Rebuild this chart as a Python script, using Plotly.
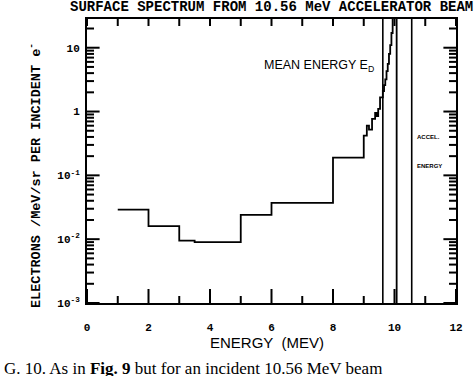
import plotly.graph_objects as go

# ---- data ----
bin_edges = [1.0, 2.0, 3.0, 3.5, 5.0, 6.0, 8.0, 9.0, 9.1, 9.17, 9.27, 9.37, 9.42, 9.47,
             9.53, 9.62, 9.66, 9.70, 9.74, 9.78, 9.82, 9.86, 9.90, 9.94, 10.07]
spectrum = [0.029, 0.016, 0.0095, 0.009, 0.024, 0.037, 0.19, 0.42, 0.60, 0.52, 0.77, 0.95,
            0.85, 1.1, 1.67, 2.1, 2.6, 3.2, 4.3, 5.6, 8.0, 11.0, 17.0, 40.0, 1e-5]
mean_energy = 9.62
accel_energy = 10.56

y_tickvals = [1e-3, 1e-2, 1e-1, 1, 10]
y_ticktext = ["10<sup>-3</sup>", "10<sup>-2</sup>", "10<sup>-1</sup>", "1", "10"]
y_minor = [k * 10.0 ** e for e in range(-3, 2) for k in range(2, 10)]
x_tickvals = [0, 2, 4, 6, 8, 10, 12]
x_ticktext = ["0", "2", "4", "6", "8", "10", "12"]
x_minor = [1, 3, 5, 7, 9, 11]
x_top = list(range(0, 13))

title_text = "SURFACE SPECTRUM FROM 10.56 MeV ACCELERATOR BEAM"
ylabel_text = "ELECTRONS /MeV/sr PER INCIDENT e<sup>-</sup>"
xlabel_text = "ENERGY  (MEV)"
caption_text = "G. 10. As in <b>Fig. 9</b> but for an incident 10.56 MeV beam"

mono = "Liberation Mono"
W, H = 474, 376
L, R, T, B = 87, 11, 19, 73
X_RANGE = [0, 12]
Y_RANGE = [-3, 1.45]
y_lo, y_hi = 10 ** Y_RANGE[0], 10 ** Y_RANGE[1]

fig = go.Figure()
fig.add_trace(go.Scatter(x=bin_edges, y=spectrum, mode="lines",
                         line=dict(shape="hv", color="black", width=1.8),
                         hoverinfo="skip", showlegend=False))

for xv in (mean_energy, accel_energy):
    fig.add_shape(type="line", x0=xv, x1=xv, y0=0, y1=1, xref="x", yref="paper",
                  line=dict(color="black", width=1.6))

# inward tick marks (half of each marker is clipped at the frame)
def tick_marks(xs, ys, symbol, length):
    fig.add_trace(go.Scatter(
        x=xs, y=ys, mode="markers", hoverinfo="skip", showlegend=False, cliponaxis=True,
        marker=dict(symbol=symbol, size=2 * length, color="black",
                    line=dict(width=2, color="black"))))

tick_marks(x_tickvals, [y_lo] * len(x_tickvals), "line-ns", 10)
tick_marks(x_minor, [y_lo] * len(x_minor), "line-ns", 5)
tick_marks(x_top, [y_hi] * len(x_top), "line-ns", 5)
for xe in X_RANGE:
    tick_marks([xe] * len(y_tickvals), y_tickvals, "line-ew", 9)
    tick_marks([xe] * len(y_minor), y_minor, "line-ew", 5)

hidden = "rgba(0,0,0,0)"
fig.update_layout(
    width=W, height=H,
    margin=dict(l=L, r=R, t=T, b=B),
    plot_bgcolor="white", paper_bgcolor="white",
    showlegend=False,
    xaxis=dict(range=X_RANGE, tickmode="array", tickvals=x_tickvals, ticktext=x_ticktext,
               ticks="outside", ticklen=13, tickcolor=hidden,
               showline=True, linecolor="black", linewidth=2, mirror=True,
               showgrid=False, zeroline=False,
               tickfont=dict(family=mono, size=11, color="black", weight="bold")),
    yaxis=dict(type="log", range=Y_RANGE, tickmode="array", tickvals=y_tickvals,
               ticktext=y_ticktext, ticks="outside", ticklen=3, tickcolor=hidden,
               showline=True, linecolor="black", linewidth=2, mirror=True,
               showgrid=False, zeroline=False,
               tickfont=dict(family=mono, size=11, color="black", weight="bold")),
)

def px_x(p):
    return (p - L) / (W - L - R)

def px_y(p):
    return (H - B - p) / (H - T - B)

fig.add_annotation(text=title_text, xref="paper", yref="paper", x=px_x(68), y=px_y(7),
                   xanchor="left", yanchor="middle", showarrow=False,
                   font=dict(family=mono, size=14, color="black", weight="bold"))
fig.add_annotation(text=ylabel_text, xref="paper", yref="paper", x=px_x(34), y=px_y(175),
                   xanchor="center", yanchor="middle", textangle=-90, showarrow=False,
                   font=dict(family=mono, size=13.5, color="black", weight="bold"))
fig.add_annotation(text=xlabel_text, xref="paper", yref="paper", x=px_x(270), y=px_y(342),
                   xanchor="center", yanchor="middle", showarrow=False,
                   font=dict(family="Liberation Sans", size=15, color="black"))
fig.add_annotation(text="MEAN ENERGY E<sub>D</sub>", xref="paper", yref="paper",
                   x=px_x(265), y=px_y(66), xanchor="left", yanchor="middle",
                   showarrow=False,
                   font=dict(family="Liberation Sans", size=12.5, color="black"))
fig.add_annotation(text="ACCEL.", xref="paper", yref="paper", x=px_x(421), y=px_y(137),
                   xanchor="left", yanchor="middle", showarrow=False,
                   font=dict(family="Liberation Sans", size=6, color="black", weight="bold"))
fig.add_annotation(text="ENERGY", xref="paper", yref="paper", x=px_x(421), y=px_y(166),
                   xanchor="left", yanchor="middle", showarrow=False,
                   font=dict(family="Liberation Sans", size=6, color="black", weight="bold"))
fig.add_annotation(text=caption_text, xref="paper", yref="paper", x=px_x(0), y=px_y(357),
                   xanchor="left", yanchor="top", showarrow=False,
                   font=dict(family="Liberation Serif", size=17, color="black"))

fig.write_html("out.html", config={"displayModeBar": False},
               post_script="document.body.style.margin='0';")
